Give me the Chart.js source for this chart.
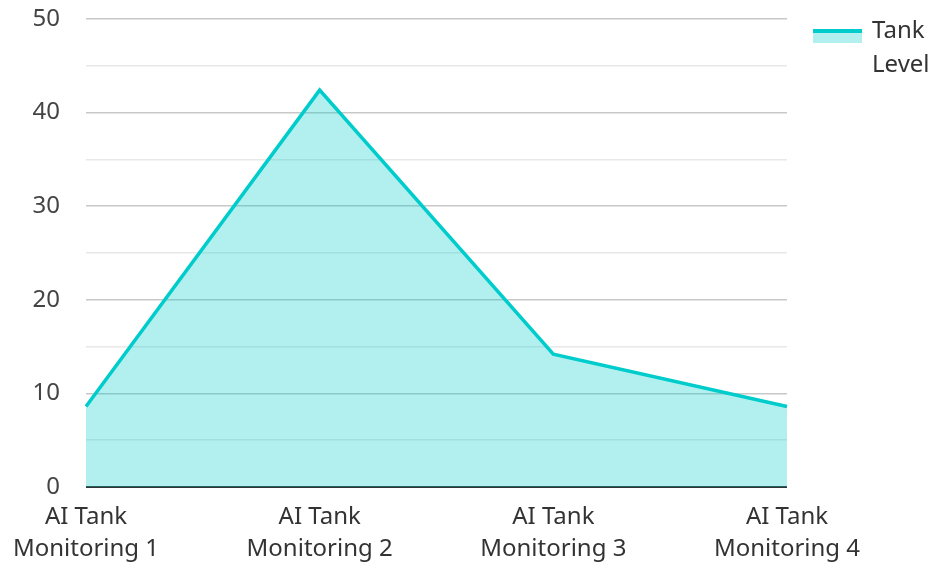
<!DOCTYPE html>
<html>
<head>
<meta charset="utf-8">
<script src="https://cdn.jsdelivr.net/npm/chart.js@4/dist/chart.umd.min.js"></script>
<style>
  html, body { margin: 0; padding: 0; background: #fff; }
  #wrap { width: 931px; height: 563px; }
</style>
</head>
<body>
<div id="wrap"><canvas id="myChart" width="931" height="563"></canvas></div>
<script>
// data
const categories = [
  ['AI Tank', 'Monitoring 1'],
  ['AI Tank', 'Monitoring 2'],
  ['AI Tank', 'Monitoring 3'],
  ['AI Tank', 'Monitoring 4']
];
const tankLevel = [8.6, 42.4, 14.2, 8.6];
const seriesLabel = ['Tank', 'Level'];

const lineColor = '#00cccc';
const fillColor = 'rgba(0, 204, 204, 0.3)';
const fontFamily = '"Noto Sans", "Open Sans", sans-serif';

// legend drawn by hand: a thick line on top of a light box, text on two lines
const sideLegend = {
  id: 'sideLegend',
  afterDraw(chart) {
    const ctx = chart.ctx;
    const x = 813, y = 29;
    ctx.save();
    ctx.fillStyle = fillColor;
    ctx.fillRect(x, y + 2, 49, 12);
    ctx.fillStyle = lineColor;
    ctx.fillRect(x, y, 49, 4);
    ctx.fillStyle = '#333';
    ctx.font = '24px ' + fontFamily;
    ctx.textBaseline = 'middle';
    ctx.fillText(seriesLabel[0], 872, 31);
    ctx.fillText(seriesLabel[1], 872, 65);
    ctx.restore();
  }
};

const chart = new Chart(document.getElementById('myChart'), {
  type: 'line',
  data: {
    labels: categories,
    datasets: [{
      label: seriesLabel.join(' '),
      data: tankLevel,
      borderColor: lineColor,
      backgroundColor: fillColor,
      borderWidth: 3.5,
      fill: 'origin',
      tension: 0,
      pointRadius: 0,
      pointHoverRadius: 0
    }]
  },
  options: {
    responsive: false,
    animation: false,
    layout: { padding: { top: 19, right: 144, left: 0, bottom: 0 } },
    plugins: {
      legend: { display: false },
      tooltip: { enabled: false }
    },
    scales: {
      x: {
        offset: false,
        grid: { display: false },
        border: { display: false },
        ticks: {
          color: '#333',
          font: { family: fontFamily, size: 24, lineHeight: 1.35 },
          maxRotation: 0,
          autoSkip: false,
          padding: 6
        },
        afterFit(scale) { scale.height = 76; }
      },
      y: {
        min: 0,
        max: 50,
        ticks: {
          stepSize: 5,
          color: '#444',
          font: { family: fontFamily, size: 24 },
          padding: 26,
          callback: function(value) {
            return value % 10 === 0 ? value : '';
          }
        },
        grid: {
          drawTicks: false,
          lineWidth: function(ctx) {
            return ctx.tick && ctx.tick.value === 0 ? 2 : 1.5;
          },
          color: function(ctx) {
            if (!ctx.tick) return '#e6e6e6';
            if (ctx.tick.value === 0) return '#333';
            return ctx.tick.value % 10 === 0 ? '#c8c8c8' : '#e8e8e8';
          }
        },
        border: { display: false },
        afterFit(scale) {
          scale.width = 86;
          scale.paddingTop = 0;
          scale.paddingBottom = 0;
        }
      }
    }
  },
  plugins: [sideLegend]
});
</script>
</body>
</html>
